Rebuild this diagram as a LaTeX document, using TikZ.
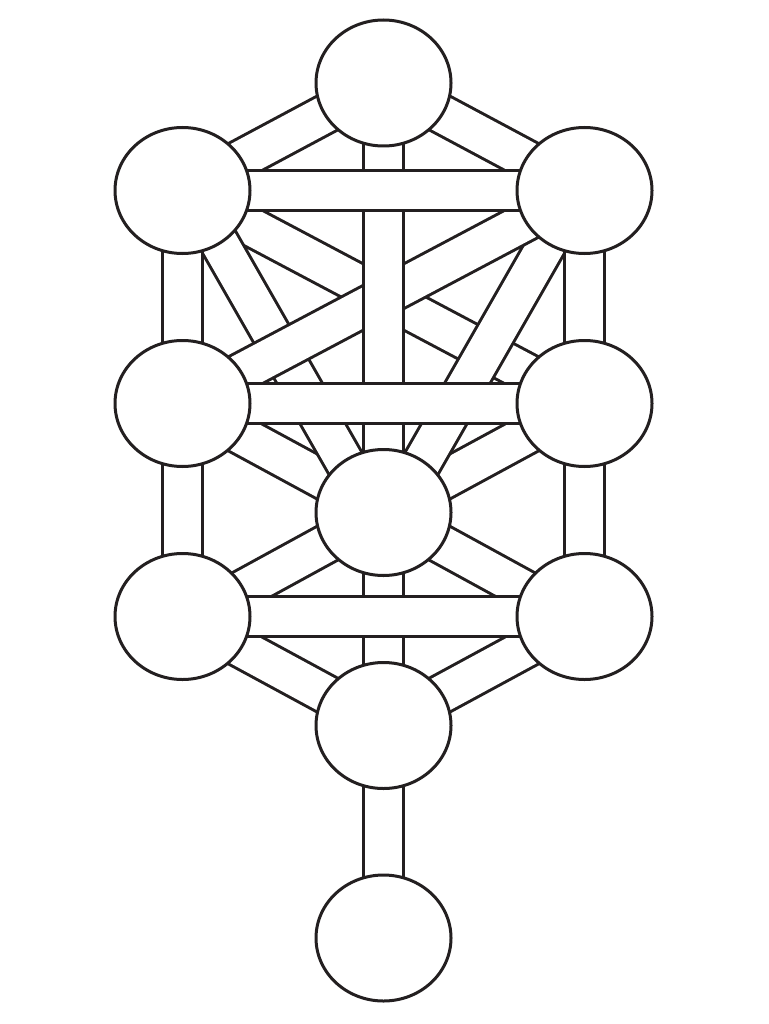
\documentclass[tikz,border=0pt]{standalone}
\usepackage{tikz}
\usetikzlibrary{positioning, shapes.geometric, backgrounds}
\definecolor{ink}{RGB}{35,31,32}

\begin{document}
\begin{tikzpicture}[x=1pt, y=1pt, on grid,
                row dist/.store in=\rowdist, row dist=213pt,
                col dist/.store in=\coldist, col dist=201pt,
                sephira/.style={draw=ink, ellipse, fill=white, line width=3pt,
                                minimum width=135pt, minimum height=126pt, inner sep=0pt},
                bar/.style={draw=ink, double=white, double distance=36.5pt, line width=3pt}]
                \useasboundingbox (0,0) rectangle (768,-1024);

                % Middle pillar top
                \node[sephira] (kether) at (383.5,-83) {};

                % Supernal pair
                \node[sephira, below left=107.5pt and \coldist of kether] (binah) {};
                \node[sephira, below right=107.5pt and \coldist of kether] (chokmah) {};

                % Side pillars
                \node[sephira, below=\rowdist of binah] (geburah) {};
                \node[sephira, below=\rowdist of chokmah] (chesed) {};
                \node[sephira, below=\rowdist of geburah] (hod) {};
                \node[sephira, below=\rowdist of chesed] (netzach) {};

                % Middle pillar
                \node[sephira, below=429.5pt of kether] (tiphareth) {};
                \node[sephira, below=\rowdist of tiphareth] (yesod) {};
                \node[sephira, below=212.5pt of yesod] (malkuth) {};

                % Paths, behind the circles
                \begin{scope}[on background layer]
                \fill[white] (0,0) rectangle (768,-1024);

                % Upper triangle
                \draw[bar] (kether.center) -- (binah.center);
                \draw[bar] (kether.center) -- (chokmah.center);

                % Crossing paths
                \draw[bar] (binah.center) -- (chesed.center);
                \draw[bar] (geburah.center) -- (tiphareth.center);
                \draw[bar] (chesed.center) -- (tiphareth.center);
                \draw[bar] ([xshift=7pt]binah.center) -- ([xshift=-10pt]tiphareth.center);
                \draw[bar] ([xshift=-7pt]chokmah.center) -- ([xshift=10pt]tiphareth.center);
                \draw[bar] (chokmah.center) -- (geburah.center);

                % Lower paths
                \draw[bar] (tiphareth.center) -- ([yshift=-6pt]hod.center);
                \draw[bar] (tiphareth.center) -- ([yshift=-6pt]netzach.center);
                \draw[bar] (hod.center) -- (yesod.center);
                \draw[bar] (netzach.center) -- (yesod.center);

                % Pillars
                \draw[bar] (kether.center) -- (tiphareth.center);
                \draw[bar] (tiphareth.center) -- (yesod.center);
                \draw[bar] (yesod.center) -- (malkuth.center);
                \draw[bar] (binah.center) -- (geburah.center);
                \draw[bar] (geburah.center) -- (hod.center);
                \draw[bar] (chokmah.center) -- (chesed.center);
                \draw[bar] (chesed.center) -- (netzach.center);

                % Horizontal paths
                \draw[bar] (binah.center) -- (chokmah.center);
                \draw[bar] (geburah.center) -- (chesed.center);
                \draw[bar] (hod.center) -- (netzach.center);
                \end{scope}
            \end{tikzpicture}
\end{document}
